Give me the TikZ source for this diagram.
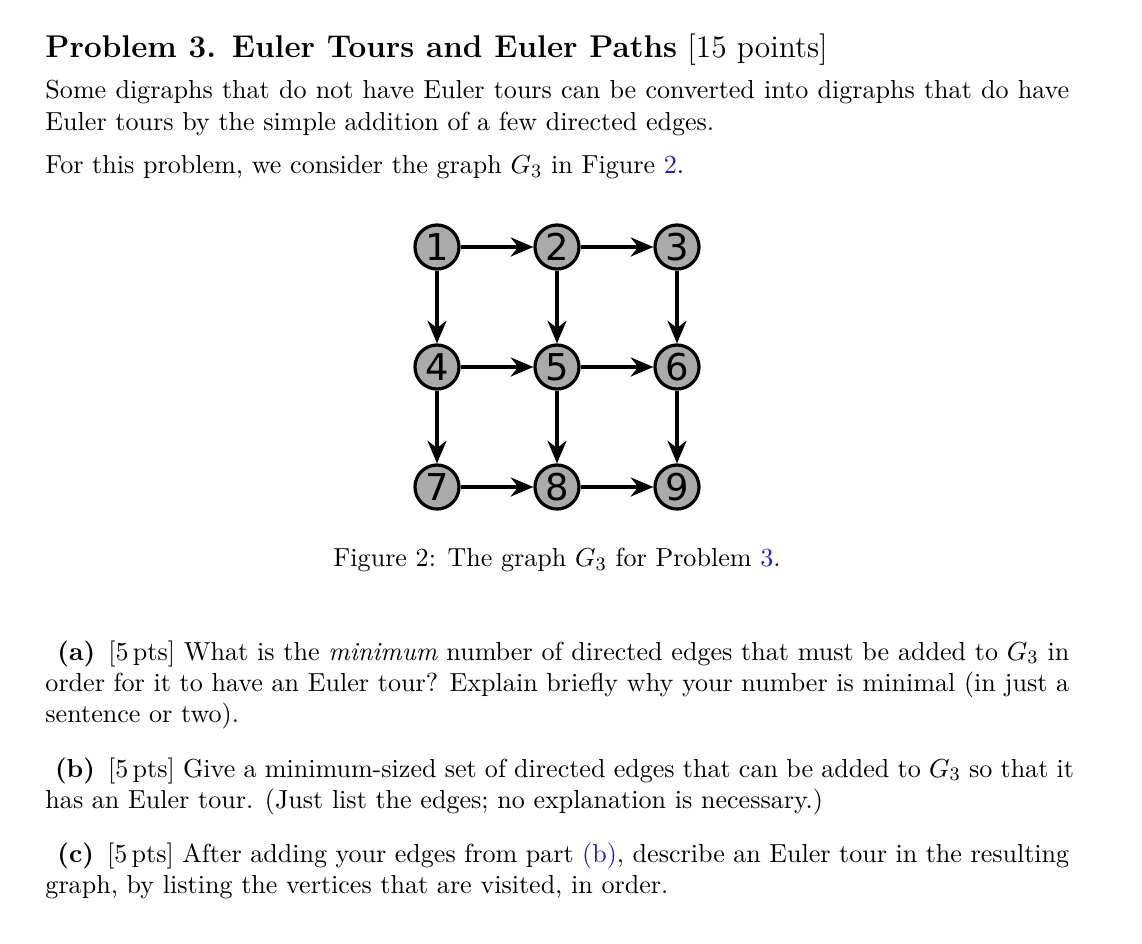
\documentclass[tikz,border=0pt]{standalone}
\usepackage{fontspec}
\newfontfamily\digfont{DejaVu Sans}
\usetikzlibrary{arrows.meta}
\definecolor{lnk}{RGB}{30,30,200}
\definecolor{vg}{RGB}{170,170,170}
\tikzset{
 para/.style={anchor=north west,inner sep=0pt,text width=430pt,align=justify,font=\fontsize{10.95}{13.1}\selectfont},
 vert/.style={circle,draw,fill=vg,line width=1.35pt,minimum size=18.5pt,inner sep=0pt,font=\digfont\fontsize{15.5}{15.5}\selectfont},
 edge/.style={line width=1.4pt,-{Stealth[length=9.5pt,width=8pt]}}
}
\begin{document}
\begin{tikzpicture}[x=0.42pt,y=-0.42pt]
\useasboundingbox (0,0) rectangle (1142,944);
\node[para,font=\fontsize{13.2}{16}\selectfont] (t) at (45,33) {\textbf{Problem 3. Euler Tours and Euler Paths} [15 points]};
\node[para] (p1) at (45,80) {Some digraphs that do not have Euler tours can be converted into digraphs that do have Euler tours by the simple addition of a few directed edges.};
\node[para] (p2) at (45,155) {For this problem, we consider the graph $G_3$ in Figure \textcolor{lnk}{2}.};
\foreach \n/\x/\y in {1/437/247,2/557/247,3/677/247,4/437/367,5/557/367,6/677/367,7/437/487,8/557/487,9/677/487}
  \node[vert] (v\n) at (\x,\y) {\n};
\foreach \a/\b in {1/2,2/3,4/5,5/6,7/8,8/9,1/4,2/5,3/6,4/7,5/8,6/9}
  \draw[edge] (v\a) -- (v\b);
\node[anchor=north,inner sep=0pt,font=\fontsize{10.95}{13.1}\selectfont] (cap) at (557,548) {Figure 2: The graph $G_3$ for Problem \textcolor{lnk}{3}.};
\node[para] (pa) at (45,640) {\hspace*{5pt}\textbf{(a)}\enspace[5\,pts] What is the \emph{minimum} number of directed edges that must be added to $G_3$ in order for it to have an Euler tour? Explain briefly why your number is minimal (in just a sentence or two).};
\node[para,text width=432pt] (pb) at (45,757) {\hspace*{4pt}\textbf{(b)}\enspace[5\,pts] Give a minimum-sized set of directed edges that can be added to $G_3$ so that it has an Euler tour. (Just list the edges; no explanation is necessary.)};
\node[para] (pc) at (45,842) {\hspace*{5pt}\textbf{(c)}\enspace[5\,pts] After adding your edges from part \textcolor{lnk}{(b)}, describe an Euler tour in the resulting graph, by listing the vertices that are visited, in order.};
\end{tikzpicture}
\end{document}
